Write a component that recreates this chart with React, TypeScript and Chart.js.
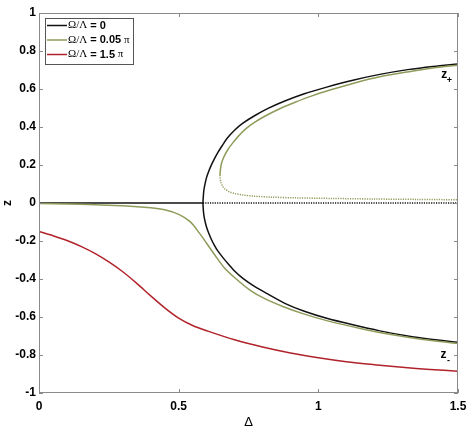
import { useEffect, useRef } from 'react'
import { Chart, registerables } from 'chart.js'

Chart.register(...registerables)

// Ω/Λ = 0 : trivial branch, then z+ / z- after the bifurcation
const zeroDelta = [0, 0.587]
const zeroZ = [0, 0]
const zeroUnstableDelta = [0.587, 1.5]
const zeroUnstableZ = [0, 0]
const blackUpperDelta = [0.587, 0.5885, 0.591, 0.595, 0.6, 0.607, 0.616, 0.627, 0.64, 0.655, 0.675, 0.7, 0.73, 0.77, 0.82, 0.88, 0.95, 1.03, 1.12, 1.22, 1.32, 1.41, 1.5]
const blackUpperZ = [0, 0.04, 0.075, 0.105, 0.135, 0.165, 0.197, 0.23, 0.265, 0.3, 0.343, 0.383, 0.42, 0.458, 0.498, 0.537, 0.575, 0.61, 0.645, 0.677, 0.702, 0.719, 0.732]
const blackLowerDelta = [0.587, 0.5885, 0.591, 0.595, 0.6, 0.607, 0.616, 0.627, 0.64, 0.66, 0.68, 0.7, 0.73, 0.77, 0.82, 0.88, 0.95, 1.03, 1.12, 1.22, 1.32, 1.41, 1.5]
const blackLowerZ = [0, -0.04, -0.072, -0.1, -0.128, -0.157, -0.188, -0.22, -0.252, -0.29, -0.325, -0.358, -0.397, -0.438, -0.48, -0.528, -0.57, -0.607, -0.64, -0.673, -0.7, -0.718, -0.733]

// Ω/Λ = 0.05 π
const greenLowerDelta = [0, 0.1, 0.2, 0.3, 0.4, 0.45, 0.5, 0.541, 0.575, 0.6, 0.63, 0.66, 0.7, 0.755, 0.81, 0.875, 0.95, 1.03, 1.15, 1.25, 1.35, 1.5]
const greenLowerZ = [-0.003, -0.005, -0.009, -0.014, -0.025, -0.036, -0.06, -0.098, -0.16, -0.212, -0.275, -0.335, -0.392, -0.458, -0.505, -0.546, -0.585, -0.619, -0.66, -0.69, -0.713, -0.74]
const greenUpperDelta = [0.648, 0.6495, 0.652, 0.657, 0.665, 0.677, 0.693, 0.714, 0.74, 0.77, 0.81, 0.86, 0.917, 0.98, 1.048, 1.13, 1.22, 1.32, 1.41, 1.5]
const greenUpperZ = [0.147, 0.175, 0.2, 0.225, 0.252, 0.283, 0.315, 0.352, 0.39, 0.423, 0.458, 0.495, 0.53, 0.565, 0.597, 0.632, 0.664, 0.69, 0.71, 0.725]
const greenUnstableDelta = [0.648, 0.649, 0.652, 0.658, 0.667, 0.68, 0.7, 0.73, 0.77, 0.83, 0.92, 1.048, 1.2, 1.35, 1.5]
const greenUnstableZ = [0.147, 0.125, 0.105, 0.087, 0.072, 0.06, 0.05, 0.042, 0.036, 0.031, 0.027, 0.024, 0.021, 0.019, 0.017]

// Ω/Λ = 1.5 π
const redDelta = [0, 0.05, 0.1, 0.15, 0.2, 0.25, 0.3, 0.35, 0.4, 0.45, 0.5, 0.55, 0.6, 0.7, 0.8, 0.9, 1.0, 1.1, 1.2, 1.3, 1.4, 1.5]
const redZ = [-0.15, -0.172, -0.197, -0.228, -0.265, -0.31, -0.362, -0.423, -0.489, -0.552, -0.606, -0.645, -0.672, -0.72, -0.758, -0.789, -0.814, -0.835, -0.851, -0.865, -0.876, -0.885]

const BLACK = '#111111'
const GREEN = '#8d9c5a'
const RED = '#b0232b'
const AXIS = '#8a8a8a'
const DOTS = [1.2, 1.2]

const legendItems = [
  { color: BLACK, value: '0', pi: false },
  { color: GREEN, value: '0.05', pi: true },
  { color: RED, value: '1.5', pi: true },
]

const branchLabels = [
  { sub: '+', x: 1.451, y: 0.674 },
  { sub: '-', x: 1.448, y: -0.8 },
]

type Pt = { x: number; y: number }
const pts = (xs: number[], ys: number[]): Pt[] => xs.map((x, i) => ({ x, y: ys[i] }))

const line = (data: Pt[], color: string, dotted = false) => ({
  data,
  borderColor: color,
  backgroundColor: color,
  borderWidth: dotted ? 1.6 : 1.5,
  borderDash: dotted ? DOTS : [],
  pointRadius: 0,
  showLine: true,
  tension: 0.3,
})

const fmt = (v: number | string) => String(Math.round(Number(v) * 100) / 100)

const framePlugin = {
  id: 'frame',
  afterDatasetsDraw(chart: any) {
    const { ctx, chartArea: a, scales } = chart
    ctx.save()
    ctx.strokeStyle = AXIS
    ctx.lineWidth = 1
    ctx.strokeRect(a.left + 0.5, a.top + 0.5, a.right - a.left - 1, a.bottom - a.top - 1)
    ctx.beginPath()
    for (const t of scales.x.ticks) {
      const px = Math.round(scales.x.getPixelForValue(t.value)) + 0.5
      ctx.moveTo(px, a.bottom); ctx.lineTo(px, a.bottom - 4)
      ctx.moveTo(px, a.top); ctx.lineTo(px, a.top + 4)
    }
    for (const t of scales.y.ticks) {
      const py = Math.round(scales.y.getPixelForValue(t.value)) + 0.5
      ctx.moveTo(a.left, py); ctx.lineTo(a.left + 4, py)
      ctx.moveTo(a.right, py); ctx.lineTo(a.right - 4, py)
    }
    ctx.stroke()

    // z+ / z- branch labels
    ctx.fillStyle = '#000'
    ctx.textBaseline = 'middle'
    ctx.textAlign = 'center'
    for (const b of branchLabels) {
      const px = scales.x.getPixelForValue(b.x)
      const py = scales.y.getPixelForValue(b.y)
      ctx.font = 'bold 12px "Liberation Sans", Arial, sans-serif'
      ctx.fillText('z', px, py)
      ctx.font = 'bold 9px "Liberation Sans", Arial, sans-serif'
      ctx.fillText(b.sub, px + 5, py + 6)
    }
    ctx.restore()
  },
  afterDraw(chart: any) {
    const { ctx, chartArea: a } = chart
    const left = a.left + 6
    const top = a.top + 5
    ctx.save()
    ctx.fillStyle = '#fff'
    ctx.fillRect(left, top, 88, 46)
    ctx.strokeStyle = '#555'
    ctx.lineWidth = 1
    ctx.strokeRect(left + 0.5, top + 0.5, 88, 46)
    ctx.textBaseline = 'middle'
    ctx.textAlign = 'left'
    legendItems.forEach((it, i) => {
      const y = top + 7.5 + i * 14.5
      ctx.strokeStyle = it.color
      ctx.lineWidth = 1.5
      ctx.beginPath(); ctx.moveTo(left + 2, y); ctx.lineTo(left + 22, y); ctx.stroke()
      ctx.fillStyle = '#000'
      let x = left + 23
      ctx.font = '11px "Liberation Serif", "Times New Roman", serif'
      ctx.fillText('Ω/Λ', x, y)
      x += ctx.measureText('Ω/Λ').width
      ctx.font = 'bold 11px "Liberation Sans", Arial, sans-serif'
      const s = ' = ' + it.value
      ctx.fillText(s, x, y)
      x += ctx.measureText(s).width
      if (it.pi) {
        ctx.font = '11px "Liberation Serif", "Times New Roman", serif'
        ctx.fillText(' π', x, y)
      }
    })
    ctx.restore()
  },
}

export default function App() {
  const canvasRef = useRef<HTMLCanvasElement>(null)

  useEffect(() => {
    if (!canvasRef.current) return
    const tickFont = { family: '"Liberation Sans", Arial, sans-serif', size: 12, weight: 'bold' as const }

    // one path through the bifurcation vertex: z+ from the right, then z-
    const blackBranches = [...pts(blackUpperDelta, blackUpperZ).reverse(), ...pts(blackLowerDelta, blackLowerZ).slice(1)]
    // one path through the turning point: solid stable part, then dotted unstable part
    const greenStableCount = greenUpperDelta.length
    const greenBranches = [...pts(greenUpperDelta, greenUpperZ).reverse(), ...pts(greenUnstableDelta, greenUnstableZ).slice(1)]
    const greenDs: any = line(greenBranches, GREEN)
    greenDs.segment = {
      borderDash: (c: any) => (c.p0DataIndex >= greenStableCount - 1 ? DOTS : undefined),
    }

    const chart = new Chart(canvasRef.current, {
      type: 'scatter',
      data: {
        datasets: [
          line(pts(zeroUnstableDelta, zeroUnstableZ), BLACK, true),
          line(pts(redDelta, redZ), RED),
          line(pts(greenLowerDelta, greenLowerZ), GREEN),
          greenDs,
          line(pts(zeroDelta, zeroZ), BLACK),
          line(blackBranches, BLACK),
        ],
      },
      options: {
        animation: false,
        responsive: true,
        maintainAspectRatio: false,
        layout: { padding: { top: 13, right: 16, left: 0, bottom: 0 } },
        plugins: { legend: { display: false }, tooltip: { enabled: false } },
        scales: {
          x: {
            type: 'linear',
            min: 0,
            max: 1.5,
            grid: { display: false, drawTicks: false },
            border: { display: false },
            ticks: { stepSize: 0.5, color: '#000', font: tickFont, padding: 6, maxRotation: 0, callback: fmt },
            title: {
              display: true,
              text: 'Δ',
              color: '#000',
              font: { family: '"Liberation Sans", Arial, sans-serif', size: 13 },
              padding: { top: 0, bottom: 3 },
            },
            afterFit: (s: any) => { s.height = 40 },
          },
          y: {
            type: 'linear',
            min: -1,
            max: 1,
            grid: { display: false, drawTicks: false },
            border: { display: false },
            ticks: { stepSize: 0.2, color: '#000', font: tickFont, padding: 3, callback: fmt },
            title: {
              display: true,
              text: 'z',
              color: '#000',
              font: { family: '"Liberation Sans", Arial, sans-serif', size: 12, weight: 'bold' },
              padding: { top: 0, bottom: 0 },
            },
            afterFit: (s: any) => { s.width = 39 },
          },
        },
      },
      plugins: [framePlugin],
    })
    return () => { chart.destroy() }
  }, [])

  return (
    <div style={{ position: 'absolute', left: 0, top: 0, width: 474, height: 433, background: '#fff' }}>
      <canvas ref={canvasRef} />
    </div>
  )
}
